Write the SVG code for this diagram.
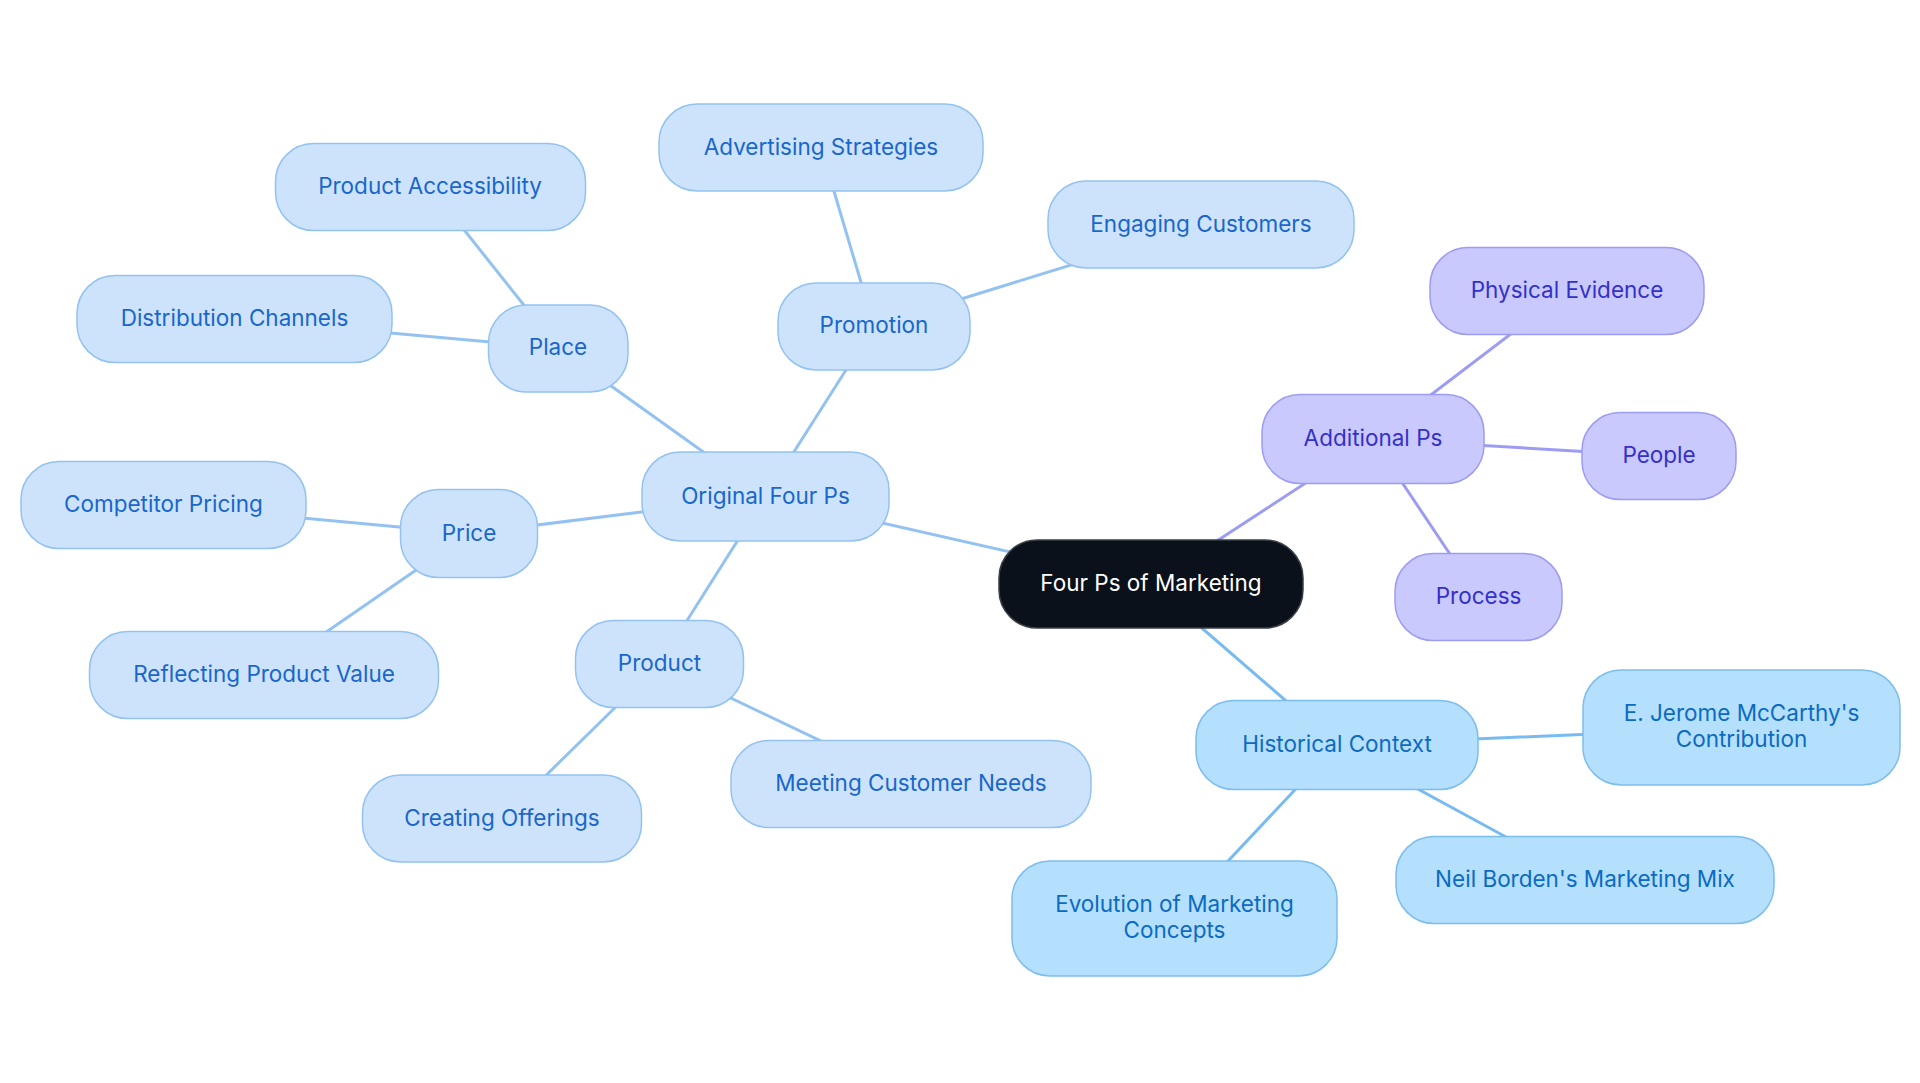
<svg xmlns="http://www.w3.org/2000/svg" width="1920" height="1083" viewBox="0 0 1920 1083">
<style>
.n rect{stroke-width:1.5}
.b rect{fill:#cde3fb;stroke:#93c2f2}
.b text{fill:#1966cc}
.p rect{fill:#c9c9fd;stroke:#9d9cf4}
.p text{fill:#3430c8}
.h rect{fill:#b4dffd;stroke:#7cbdf0}
.h text{fill:#0b6bc2}
.c rect{fill:#0b111b;stroke:#3a3f47}
.c text{fill:#ffffff}
text{font-family:Inter,"Noto Sans","Liberation Sans",sans-serif;font-size:22.5px;text-anchor:middle}
#edges line{stroke-width:3;stroke-linecap:round}
.eb{stroke:#93c2f2}
.ep{stroke:#9d9cf4}
.eh{stroke:#78bbf0}
</style>
<rect width="1920" height="1083" fill="#ffffff"/>
<g id="edges">
<line class="eb" x1="1151" y1="584" x2="765.5" y2="496.5"/>
<line class="ep" x1="1151" y1="584" x2="1373" y2="439"/>
<line class="eh" x1="1151" y1="584" x2="1337" y2="745"/>
<line class="eb" x1="765.5" y1="496.5" x2="874" y2="326"/>
<line class="eb" x1="765.5" y1="496.5" x2="558" y2="348"/>
<line class="eb" x1="765.5" y1="496.5" x2="469" y2="533.5"/>
<line class="eb" x1="765.5" y1="496.5" x2="659.5" y2="664"/>
<line class="eb" x1="874" y1="326" x2="821" y2="147.5"/>
<line class="eb" x1="874" y1="326" x2="1201" y2="224.7"/>
<line class="eb" x1="558" y1="348" x2="430" y2="187"/>
<line class="eb" x1="558" y1="348" x2="234.5" y2="319"/>
<line class="eb" x1="469" y1="533.5" x2="163.5" y2="505"/>
<line class="eb" x1="469" y1="533.5" x2="264" y2="675"/>
<line class="eb" x1="659.5" y1="664" x2="502" y2="818.5"/>
<line class="eb" x1="659.5" y1="664" x2="911" y2="784"/>
<line class="ep" x1="1373" y1="439" x2="1567" y2="291"/>
<line class="ep" x1="1373" y1="439" x2="1659" y2="456"/>
<line class="ep" x1="1373" y1="439" x2="1478.6" y2="597"/>
<line class="eh" x1="1337" y1="745" x2="1741.5" y2="727.5"/>
<line class="eh" x1="1337" y1="745" x2="1585" y2="880"/>
<line class="eh" x1="1337" y1="745" x2="1174.5" y2="918"/>
</g>
<g id="center" class="n c"><rect x="999" y="540" width="304" height="88" rx="38"/><text x="1151" y="591">Four Ps of Marketing</text></g>
<g id="original" class="n b"><rect x="642" y="452" width="247" height="89" rx="38"/><text x="765.5" y="503.5">Original Four Ps</text></g>
<g id="promotion" class="n b"><rect x="778" y="283" width="192" height="87" rx="38"/><text x="874" y="333">Promotion</text></g>
<g id="advertising" class="n b"><rect x="659" y="104" width="324" height="87" rx="38"/><text x="821" y="154.5">Advertising Strategies</text></g>
<g id="engaging" class="n b"><rect x="1048" y="181" width="306" height="87" rx="38"/><text x="1201" y="231.5">Engaging Customers</text></g>
<g id="place" class="n b"><rect x="488.5" y="305" width="139.5" height="87" rx="38"/><text x="558" y="355">Place</text></g>
<g id="accessibility" class="n b"><rect x="275.5" y="143.5" width="310" height="87" rx="38"/><text x="430" y="194">Product Accessibility</text></g>
<g id="distribution" class="n b"><rect x="77" y="275.5" width="315" height="87" rx="38"/><text x="234.5" y="326">Distribution Channels</text></g>
<g id="price" class="n b"><rect x="400.5" y="489.5" width="137" height="88" rx="38"/><text x="469" y="540.5">Price</text></g>
<g id="competitor" class="n b"><rect x="21" y="461.5" width="285" height="87" rx="38"/><text x="163.5" y="512">Competitor Pricing</text></g>
<g id="reflecting" class="n b"><rect x="89.5" y="631.5" width="349" height="87" rx="38"/><text x="264" y="682">Reflecting Product Value</text></g>
<g id="product" class="n b"><rect x="575.5" y="620.5" width="168" height="87" rx="38"/><text x="659.5" y="671">Product</text></g>
<g id="creating" class="n b"><rect x="362.5" y="775" width="279" height="87" rx="38"/><text x="502" y="825.5">Creating Offerings</text></g>
<g id="meeting" class="n b"><rect x="731" y="740.5" width="360" height="87" rx="38"/><text x="911" y="791">Meeting Customer Needs</text></g>
<g id="additional" class="n p"><rect x="1262" y="394.5" width="222" height="89" rx="38"/><text x="1373" y="446">Additional Ps</text></g>
<g id="physical" class="n p"><rect x="1430" y="247.5" width="274" height="87" rx="38"/><text x="1567" y="298">Physical Evidence</text></g>
<g id="people" class="n p"><rect x="1582" y="412.5" width="154" height="87" rx="38"/><text x="1659" y="463">People</text></g>
<g id="process" class="n p"><rect x="1395" y="553.5" width="167" height="87" rx="38"/><text x="1478.6" y="604">Process</text></g>
<g id="historical" class="n h"><rect x="1196" y="700.5" width="282" height="89" rx="38"/><text x="1337" y="752">Historical Context</text></g>
<g id="mccarthy" class="n h"><rect x="1583" y="670" width="317" height="115" rx="38"/><text x="1741.5" y="721">E. Jerome McCarthy's</text><text x="1741.5" y="746.5">Contribution</text></g>
<g id="borden" class="n h"><rect x="1396" y="836.5" width="378" height="87" rx="38"/><text x="1585" y="887">Neil Borden's Marketing Mix</text></g>
<g id="evolution" class="n h"><rect x="1012" y="861" width="325" height="115" rx="38"/><text x="1174.5" y="912">Evolution of Marketing</text><text x="1174.5" y="937.5">Concepts</text></g>
</svg>
